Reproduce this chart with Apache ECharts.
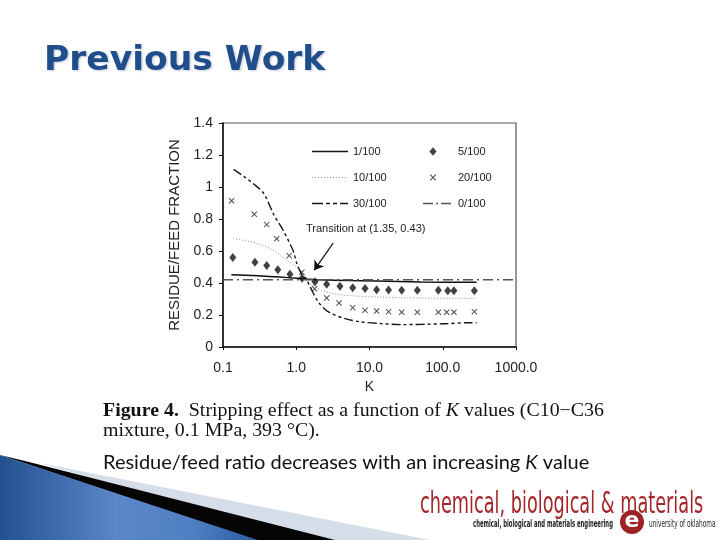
<!DOCTYPE html>
<html><head><meta charset="utf-8">
<script src="https://cdn.jsdelivr.net/npm/echarts@6/dist/echarts.min.js"></script>
<style>html,body{margin:0;padding:0;background:#fff}#c{width:720px;height:540px}</style>
</head><body><div id="c"></div>
<script>
// ---- data ----
const yTickValues = [0, 0.2, 0.4, 0.6, 0.8, 1, 1.2, 1.4];
const xTickValues = [0.1, 1, 10, 100, 1000];

const k_1 = [0.13, 0.3, 0.6, 1.0, 1.35, 2, 5, 12.5, 50, 200, 290];
const v_1 = [0.452, 0.445, 0.437, 0.43, 0.425, 0.42, 0.415, 0.412, 0.407, 0.404, 0.404];

const k_10 = [0.138, 0.2, 0.29, 0.48, 0.74, 1.0, 1.25, 1.35, 1.64, 2.76, 4.66, 13.3, 50, 290];
const v_10 = [0.68, 0.665, 0.648, 0.606, 0.544, 0.502, 0.46, 0.43, 0.386, 0.34, 0.323, 0.3125, 0.306, 0.304];

const k_30 = [0.14, 0.2, 0.26, 0.36, 0.49, 0.66, 0.91, 1.02, 1.2, 1.35, 1.55, 2.0, 2.76, 4.66, 7.9, 14.8, 27.5, 100, 240, 290];
const v_30 = [1.11, 1.06, 1.02, 0.96, 0.83, 0.73, 0.6, 0.52, 0.45, 0.43, 0.375, 0.281, 0.219, 0.177, 0.156, 0.146, 0.14, 0.145, 0.152, 0.152];

const k_0 = [0.1, 1000];
const v_0 = [0.42, 0.42];

const k_5 = [0.136, 0.273, 0.395, 0.56, 0.82, 1.2, 1.8, 2.6, 3.95, 5.9, 8.7, 12.5, 18.2, 27.5, 45, 87, 117, 142, 270];
const v_5 = [0.56, 0.53, 0.51, 0.483, 0.454, 0.43, 0.408, 0.392, 0.379, 0.371, 0.365, 0.358, 0.356, 0.354, 0.354, 0.354, 0.352, 0.352, 0.352];

const k_20 = [0.131, 0.267, 0.395, 0.54, 0.80, 1.19, 1.78, 2.6, 3.84, 5.9, 8.7, 12.5, 18.2, 27.5, 45, 87, 113, 142, 270];
const v_20 = [0.914, 0.83, 0.765, 0.677, 0.571, 0.467, 0.364, 0.306, 0.275, 0.246, 0.229, 0.225, 0.221, 0.217, 0.217, 0.217, 0.217, 0.217, 0.221];

const arrowFrom = [3.2, 0.65];
const arrowTo = [1.76, 0.48];

const seriesNames = ['1/100', '10/100', '30/100', '5/100', '20/100', '0/100'];

const pairs = (k, v) => k.map((x, i) => [x, v[i]]);
const XPATH = 'path://M0,1.2L1.2,0L5,3.8L8.8,0L10,1.2L6.2,5L10,8.8L8.8,10L5,6.2L1.2,10L0,8.8L3.8,5Z';

// legend icons: padded paths so that the icon box is exactly w x h
function framePath(w, h) { return 'M0,0L0,0M' + w + ',' + h + 'L' + w + ',' + h; }
function dashIcon(w, h, t, pattern) {
  let d = framePath(w, h);
  const y0 = (h - t) / 2, y1 = y0 + t;
  let x = 0, i = 0;
  while (x < w) {
    const len = pattern[i % pattern.length];
    if (i % 2 === 0) {
      const x2 = Math.min(w, x + len);
      d += 'M' + x + ',' + y0 + 'L' + x2 + ',' + y0 + 'L' + x2 + ',' + y1 + 'L' + x + ',' + y1 + 'Z';
    }
    x += len; i++;
  }
  return 'path://' + d;
}
function diamondIcon(w, h, cx) {
  return 'path://' + framePath(w, h) + 'M' + cx + ',0.8L' + (cx + 3.6) + ',5L' + cx + ',9.2L' + (cx - 3.6) + ',5Z';
}
function crossIcon(w, h, cx) {
  const a = cx - 3.2, b = cx + 3.2, s = 0.75;
  return 'path://' + framePath(w, h) +
    'M' + (a) + ',' + (1.8 + s) + 'L' + (a + s) + ',1.8L' + b + ',' + (8.2 - s) + 'L' + (b - s) + ',8.2Z' +
    'M' + (b - s) + ',1.8L' + b + ',' + (1.8 + s) + 'L' + (a + s) + ',8.2L' + a + ',' + (8.2 - s) + 'Z';
}

const chart = echarts.init(document.getElementById('c'), null, {renderer: 'canvas'});
const axisFont = 'Liberation Sans, Arial, sans-serif';
const legendText = {fontSize: 11, fontFamily: axisFont, color: '#222'};
const capFont = 'Liberation Serif, serif';

chart.setOption({
  backgroundColor: '#fff',
  animation: false,
  grid: {left: 223, right: 204, top: 123, bottom: 193, show: true, borderColor: '#555', borderWidth: 1.2, backgroundColor: 'transparent'},
  legend: [
    {data: [
       {name: seriesNames[0], icon: dashIcon(36, 10, 1.5, [36, 0])},
       {name: seriesNames[1], icon: dashIcon(36, 10, 1, [1, 2])},
       {name: seriesNames[2], icon: dashIcon(36, 10, 1.5, [11, 3, 4, 3, 4, 3])}],
     orient: 'vertical', left: 307, top: 141,
     itemWidth: 36, itemHeight: 10, itemGap: 15, selectedMode: false, textStyle: legendText},
    {data: [
       {name: seriesNames[3], icon: diamondIcon(30, 10, 10)},
       {name: seriesNames[4], icon: crossIcon(30, 10, 10)},
       {name: seriesNames[5], icon: dashIcon(30, 10, 1.6, [10, 3, 2, 3])}],
     orient: 'vertical', left: 418, top: 141,
     itemWidth: 30, itemHeight: 10, itemGap: 15, selectedMode: false, textStyle: legendText}
  ],
  xAxis: {
    type: 'log', logBase: 10, min: xTickValues[0], max: xTickValues[xTickValues.length - 1],
    name: 'K', nameLocation: 'middle', nameGap: 33,
    nameTextStyle: {fontSize: 14, fontFamily: axisFont, color: '#222'},
    axisLine: {lineStyle: {color: '#111', width: 1.5}},
    axisTick: {show: true, length: 3, lineStyle: {color: '#111'}},
    minorTick: {show: false},
    splitLine: {show: false},
    axisLabel: {fontSize: 14, fontFamily: axisFont, color: '#222', margin: 14,
      formatter: v => Number(v).toFixed(1)}
  },
  yAxis: {
    type: 'value', min: yTickValues[0], max: yTickValues[yTickValues.length - 1], interval: 0.2,
    name: 'RESIDUE/FEED FRACTION', nameLocation: 'middle', nameGap: 41, nameRotate: 90,
    nameTextStyle: {fontSize: 15, fontFamily: axisFont, color: '#222'},
    axisLine: {show: true, lineStyle: {color: '#111', width: 1.5}},
    axisTick: {show: true, length: 4, lineStyle: {color: '#111'}},
    splitLine: {show: false},
    axisLabel: {fontSize: 14, fontFamily: axisFont, color: '#222', margin: 10,
      formatter: v => String(+Number(v).toFixed(1))}
  },
  series: [
    {name: seriesNames[0], type: 'line', data: pairs(k_1, v_1), symbol: 'none', smooth: 0.2,
     lineStyle: {color: '#111', width: 1.5, type: 'solid'}, itemStyle: {color: '#111'},
     markLine: {silent: true, symbol: ['none', 'arrow'], symbolSize: 9, label: {show: false},
       lineStyle: {color: '#111', width: 1.3, type: 'solid'},
       data: [[{coord: arrowFrom}, {coord: arrowTo}]]}},
    {name: seriesNames[1], type: 'line', data: pairs(k_10, v_10), symbol: 'none', smooth: 0.3,
     lineStyle: {color: '#8a8a8a', width: 1, type: [1, 2]}, itemStyle: {color: '#8a8a8a'}},
    {name: seriesNames[2], type: 'line', data: pairs(k_30, v_30), symbol: 'none', smooth: 0.3,
     lineStyle: {color: '#151515', width: 1.4, type: [9, 3, 3, 3, 3, 3]}, itemStyle: {color: '#151515'}},
    {name: seriesNames[3], type: 'scatter', data: pairs(k_5, v_5), symbol: 'diamond', symbolSize: [7, 9],
     itemStyle: {color: '#111'}},
    {name: seriesNames[4], type: 'scatter', data: pairs(k_20, v_20), symbol: XPATH, symbolSize: 6,
     itemStyle: {color: '#222'}},
    {name: seriesNames[5], type: 'line', data: pairs(k_0, v_0), symbol: 'none',
     lineStyle: {color: '#555', width: 1.6, type: [10, 4, 2, 4]}, itemStyle: {color: '#555'}}
  ],
  graphic: [
    // decorative bottom-left wedges
    {type: 'polygon', z: 1, shape: {points: [[40, 463], [430, 540], [300, 540]]},
     style: {fill: '#d5dde9'}},
    {type: 'polygon', z: 2, shape: {points: [[25, 461], [335, 540], [255, 540], [0, 455]]},
     style: {fill: '#050505'}},
    {type: 'polygon', z: 3, shape: {points: [[0, 455], [258, 540], [0, 540]]},
     style: {fill: new echarts.graphic.LinearGradient(0, 0, 1, 0, [
       {offset: 0, color: '#23508f'}, {offset: 0.45, color: '#5b87c8'}, {offset: 0.75, color: '#4f7fc2'}, {offset: 1, color: '#2a5ba3'}])}},
    // slide title
    {type: 'text', x: 44, y: 61, z: 10,
     style: {text: 'Previous Work', fontSize: 34.5, fontWeight: 'bold', fontFamily: 'DejaVu Sans, sans-serif',
       fill: '#1f4e8a', textAlign: 'left', textVerticalAlign: 'middle', align: 'left', verticalAlign: 'middle',
       textShadowColor: 'rgba(120,140,170,0.4)', textShadowOffsetX: 1.5, textShadowOffsetY: 1.5, textShadowBlur: 2}},
    // annotation
    {type: 'text', x: 306, y: 229, z: 10,
     style: {text: 'Transition at (1.35, 0.43)', fontSize: 11, fontFamily: axisFont, fill: '#222',
       textAlign: 'left', textVerticalAlign: 'middle', align: 'left', verticalAlign: 'middle'}},
    // figure caption
    {type: 'text', x: 103, y: 411, scaleX: 1.075, z: 10,
     style: {text: '{b|Figure 4.}  Stripping effect as a function of {i|K} values (C10\u2212C36', fontSize: 18.5,
       fontFamily: capFont, fill: '#111', textAlign: 'left', textVerticalAlign: 'middle', align: 'left', verticalAlign: 'middle',
       rich: {b: {fontWeight: 'bold', fontSize: 18.5, fontFamily: capFont, fill: '#111', color: '#111'},
              i: {fontStyle: 'italic', fontSize: 18.5, fontFamily: capFont, fill: '#111', color: '#111'}}}},
    {type: 'text', x: 103, y: 431, scaleX: 1.075, z: 10,
     style: {text: 'mixture, 0.1 MPa, 393 \u00b0C).', fontSize: 18.5, fontFamily: capFont, fill: '#111',
       textAlign: 'left', textVerticalAlign: 'middle', align: 'left', verticalAlign: 'middle'}},
    {type: 'text', x: 103, y: 463, z: 10,
     style: {text: 'Residue/feed ratio decreases with an increasing {i|K} value', fontSize: 20,
       fontFamily: 'Lato, sans-serif', fill: '#111', textAlign: 'left', textVerticalAlign: 'middle', align: 'left', verticalAlign: 'middle',
       rich: {i: {fontStyle: 'italic', fontSize: 20, fontFamily: 'Lato, sans-serif', fill: '#111', color: '#111'}}}},
    // logo
    {type: 'text', x: 420, y: 505, scaleX: 0.59, z: 10,
     style: {text: 'chemical, biological & materials', fontSize: 30, fontFamily: 'DejaVu Sans, sans-serif',
       fill: '#a3262a', textAlign: 'left', textVerticalAlign: 'middle', align: 'left', verticalAlign: 'middle'}},
    {type: 'text', x: 473, y: 524, scaleX: 0.53, z: 10,
     style: {text: 'chemical, biological and materials engineering', fontSize: 10, fontWeight: 'bold', fontFamily: 'DejaVu Sans, sans-serif',
       fill: '#222', textAlign: 'left', textVerticalAlign: 'middle', align: 'left', verticalAlign: 'middle'}},
    {type: 'circle', z: 10, shape: {cx: 632, cy: 522, r: 12}, style: {fill: '#9e2126'}},
    {type: 'text', x: 632, y: 521, z: 11,
     style: {text: 'e', fontSize: 22, fontWeight: 'bold', fontFamily: 'DejaVu Sans, sans-serif', fill: '#fff',
       textAlign: 'center', textVerticalAlign: 'middle', align: 'center', verticalAlign: 'middle'}},
    {type: 'text', x: 649, y: 524, scaleX: 0.58, z: 10,
     style: {text: 'university of oklahoma', fontSize: 10, fontFamily: 'DejaVu Sans, sans-serif',
       fill: '#222', textAlign: 'left', textVerticalAlign: 'middle', align: 'left', verticalAlign: 'middle'}}
  ]
});
</script></body></html>
